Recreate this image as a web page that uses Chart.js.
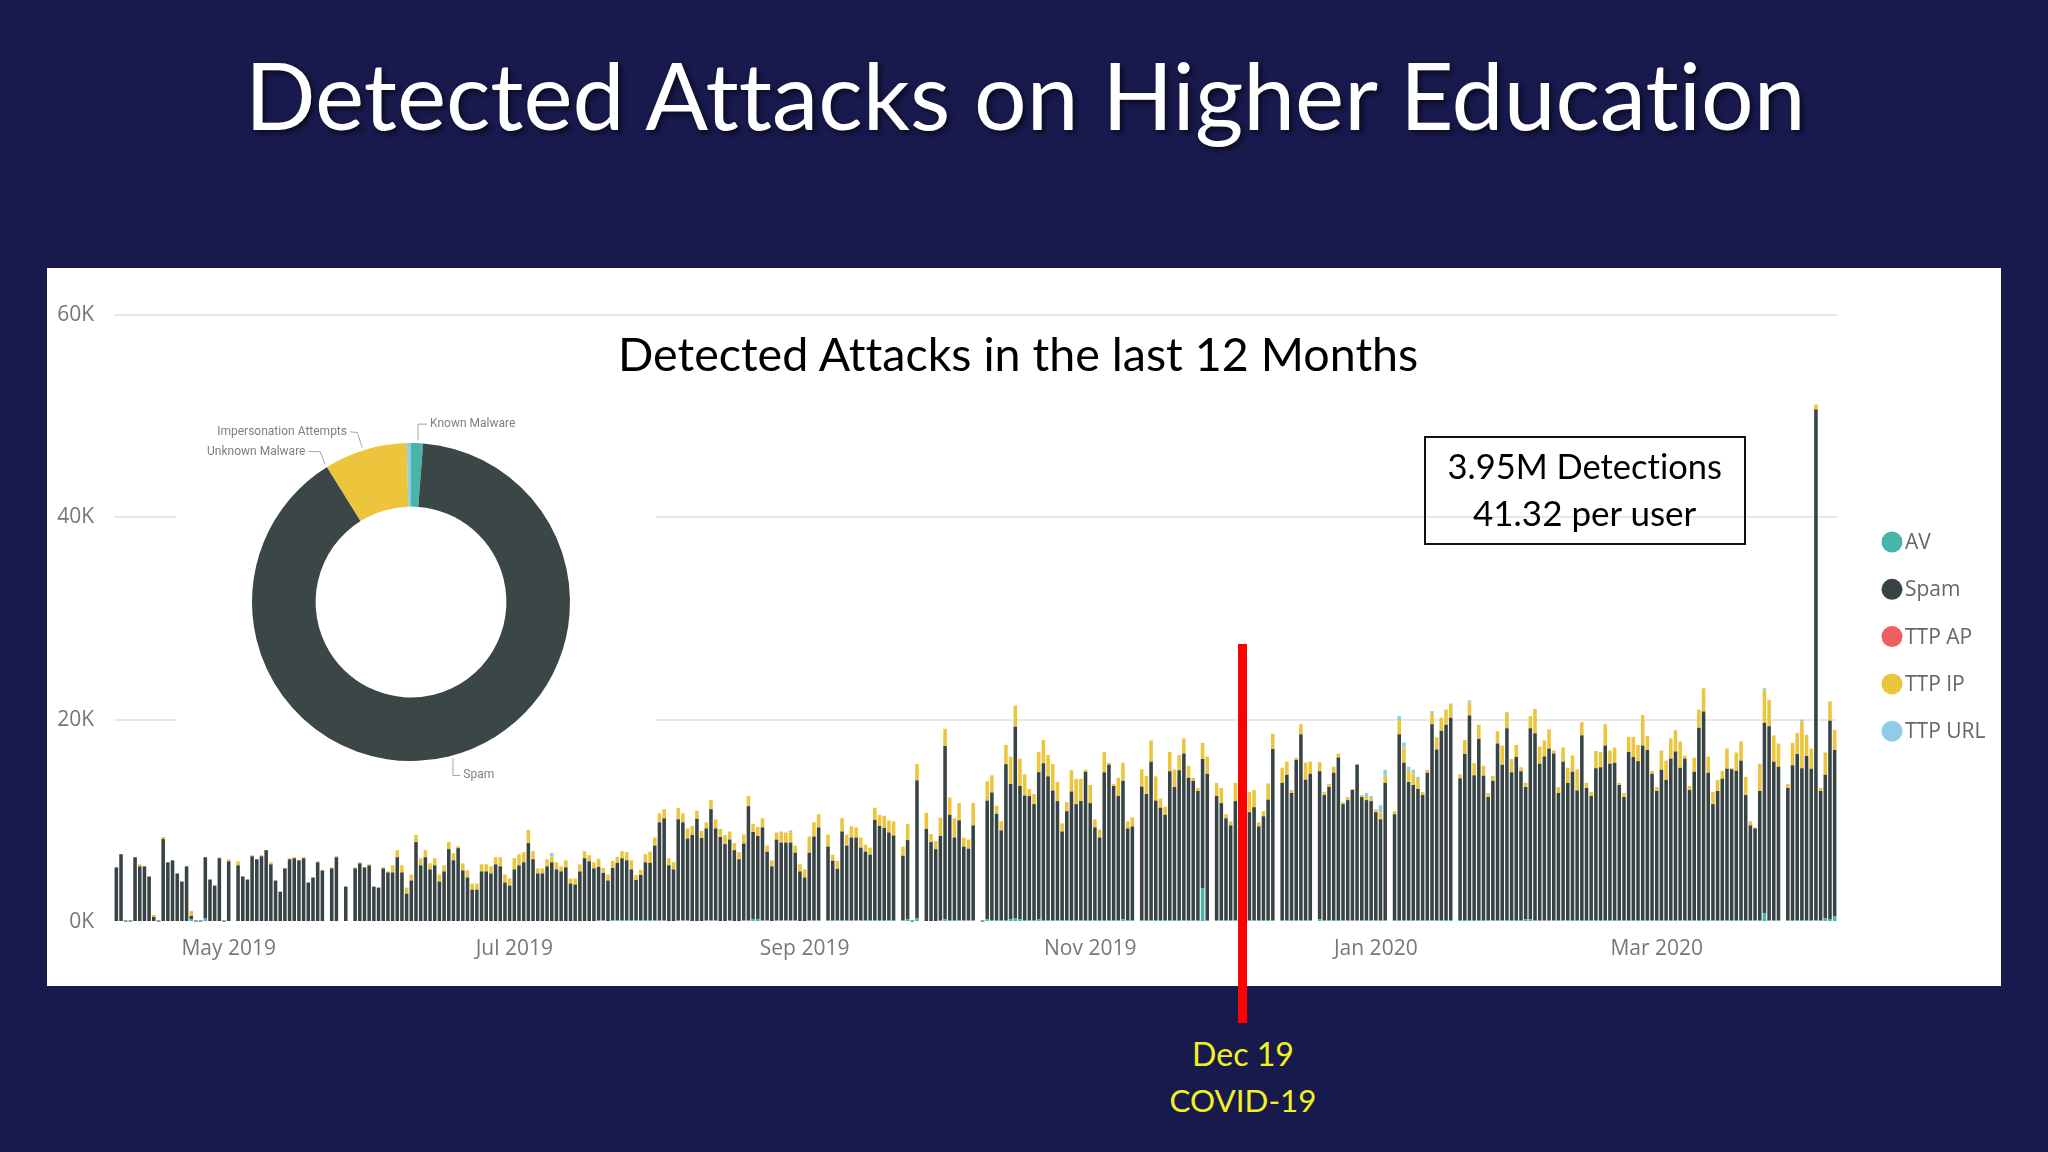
<!DOCTYPE html>
<html>
<head>
<meta charset="utf-8">
<script src="https://cdn.jsdelivr.net/npm/chart.js@4.4.1/dist/chart.umd.min.js"></script>
<style>
html,body{margin:0;padding:0;width:2048px;height:1152px;overflow:hidden;background:#18194c;}
#panel{position:absolute;left:47px;top:268px;width:1954px;height:718px;background:#ffffff;}
#barWrap{position:absolute;left:47px;top:268px;width:1954px;height:718px;}
#donutWrap{position:absolute;left:176px;top:400px;width:480px;height:395px;background:#ffffff;}
#box{position:absolute;left:1424px;top:436px;width:322px;height:109px;border:2px solid #111;box-sizing:border-box;}
#redline{position:absolute;top:644px;height:379px;width:9px;background:#ff0000;z-index:10;}
.txt{position:absolute;white-space:nowrap;z-index:5;}
</style>
</head>
<body>
<div id="panel"></div>
<div id="barWrap"><canvas id="bars" width="1954" height="718"></canvas></div>
<div id="donutWrap"><canvas id="donut" width="480" height="395"></canvas></div>
<div id="box"></div>
<div id="redline"></div>
<script>
// ---------------- DATA ----------------
// Daily detections, starting 2019-04-07 (one value per day)
const spam = [
5300,6600,100,100,6300,5400,5400,4400,400,100,
8100,5800,6000,4700,3900,5400,300,100,100,6000,
4100,3500,6200,100,5900,0,5500,4400,4100,6400,
6100,6400,7000,5600,4000,2900,5200,6100,6200,6000,
6200,3800,4300,5800,5000,0,5200,6300,0,3400,
0,5200,5700,5300,5500,3400,3300,5200,4800,4800,
6300,4800,2700,4000,7800,5500,6300,5100,5500,3900,
4900,7100,6000,7200,5000,4300,3100,3100,4900,4900,
4700,5600,5400,3800,3500,5100,5500,5800,7700,6100,
4700,4700,5400,5800,5100,4900,5300,3700,3600,4900,
6200,5900,5200,5300,4700,4000,5200,5700,6100,5900,
5000,4000,4500,5700,5700,7400,9700,10100,5500,5100,
10000,9700,8100,8500,10100,8200,9100,11000,9100,8300,
7600,8000,7000,6100,7600,11300,8600,8200,9200,6800,
5400,8000,7700,7700,7700,6700,4900,4300,6700,8300,
9200,0,7300,5900,5100,8800,7400,8200,8200,7200,
6800,6500,9900,9300,9100,8700,8400,100,6400,7800,
100,13600,0,9100,7800,7100,8300,17100,10400,8200,
9900,7300,7100,9400,0,100,11700,12600,10500,8900,
15400,13400,18900,13200,12300,12300,11500,14500,15500,14200,
12800,11800,8800,10800,12700,11500,11800,14700,11600,9200,
8200,14600,15400,13300,12300,13700,9100,9300,0,13200,
12500,15700,11800,11100,10400,14700,13200,14800,16500,14100,
13800,12800,12800,14500,100,12300,11600,10100,9400,11800,
11500,12500,10700,11200,9300,10300,11900,16900,0,13600,
14400,12600,15900,18400,13900,14500,0,14600,12400,13200,
14600,16100,11500,11900,12900,15400,12200,11900,11800,10700,
10000,13600,0,10500,18400,15600,13700,13400,13000,12400,
14600,19400,16900,18700,19300,20000,0,14000,16400,20200,
14300,17900,14300,12200,13800,17500,15400,19000,14600,16100,
14700,13100,18900,18500,15500,16200,17000,16500,12600,15700,
13600,14700,12800,18300,13100,12300,15000,15100,17300,15500,
15600,13400,12200,16600,16100,15700,17300,16800,14500,12800,
14900,13900,16000,16700,15100,16000,12900,14700,19000,20600,
14600,11500,12800,14000,15000,14900,14800,15800,12400,9400,
9100,12800,18800,19200,15700,15200,0,13100,15300,16400,
15000,16200,15000,50500,12800,14200,19600,16400
];
const ttpIp = [
0,0,0,0,0,200,0,0,200,0,
200,0,0,0,0,0,500,0,0,0,
0,0,100,0,200,0,400,0,0,100,
0,100,0,200,0,0,0,100,100,0,
100,0,0,100,0,0,100,100,0,0,
0,100,100,0,100,0,0,100,100,700,
700,700,600,600,700,700,700,600,700,700,
600,700,700,200,700,700,600,600,700,700,
700,700,900,800,700,1100,1100,1000,1300,800,
500,500,700,600,700,500,700,500,600,700,
700,600,600,800,500,600,700,600,700,800,
900,500,500,800,1100,800,900,900,700,700,
1100,900,1000,900,800,700,600,900,900,800,
900,800,700,700,900,1000,800,900,900,600,
600,700,1100,1000,1000,700,700,800,1600,1400,
1300,0,1200,600,800,1300,1100,1100,1000,1000,
700,700,1200,1100,1200,1200,1400,0,900,1600,
0,1600,0,1600,800,800,1800,1700,1700,1900,
1700,900,900,2200,0,0,1900,1700,800,900,
1900,2700,2100,2700,2100,700,1000,2000,2300,2100,
2600,1900,800,900,2100,2500,2200,200,1800,800,
800,2000,200,200,1800,1800,700,900,0,1700,
1800,2100,2400,900,800,1900,1700,1500,1500,1200,
300,300,1600,1700,0,1300,1500,400,400,1800,
1500,2000,2000,1700,400,500,1600,1500,0,1500,
1300,300,200,1000,1700,1200,0,900,300,300,
600,400,200,300,100,100,200,300,300,300,
700,700,0,300,1400,1500,1100,1200,900,300,
300,1100,1200,1300,1500,1400,0,400,1400,1300,
1200,1400,1000,400,500,1200,1900,1600,1300,1200,
400,400,1200,2400,1700,1600,1900,300,600,1400,
1500,1600,2100,1300,500,400,1700,1500,2100,1300,
1500,200,400,1500,2000,1600,3000,1400,300,400,
1900,1900,2000,2100,2600,300,400,1400,1800,2300,
1600,1200,1100,800,2000,100,1800,1900,1800,400,
100,2700,3200,2600,2600,2300,0,400,2200,2100,
4600,2100,2000,500,300,2200,1900,2000
];
const av = [
100,100,50,50,100,100,100,100,100,50,
100,100,100,100,100,100,300,50,50,400,
100,100,100,50,100,0,100,100,100,100,
100,100,100,100,100,100,100,100,100,100,
100,100,100,100,100,0,100,100,0,100,
0,100,100,100,100,100,100,100,100,100,
100,100,100,100,100,100,100,100,100,100,
100,100,100,100,100,100,100,100,100,100,
100,100,100,100,100,100,100,100,100,100,
100,100,100,100,100,100,100,100,100,100,
100,100,100,150,150,100,150,150,200,200,
200,150,150,200,150,150,150,150,100,100,
150,150,150,100,100,100,150,150,150,100,
100,150,100,100,150,150,300,300,150,150,
100,150,150,150,150,150,100,100,150,150,
150,0,150,150,150,150,150,150,150,150,
150,150,200,200,200,150,150,0,150,300,
50,400,0,100,100,100,200,300,200,150,
150,150,150,150,0,50,300,200,200,150,
200,250,400,250,200,150,150,300,200,200,
200,150,150,150,200,150,150,150,150,150,
150,200,150,150,150,250,150,150,0,200,
150,150,200,200,200,200,150,200,150,150,
150,150,3300,150,0,150,150,150,150,150,
150,150,150,150,150,150,200,200,0,150,
150,150,150,150,150,150,0,300,150,150,
150,150,150,150,150,150,150,150,150,150,
150,150,0,150,150,150,150,150,150,150,
150,150,150,200,200,200,0,200,200,200,
200,200,150,150,150,150,150,150,200,200,
200,250,250,150,150,150,150,150,150,150,
150,150,200,150,150,150,200,200,150,150,
150,150,150,200,200,200,150,200,150,150,
150,150,150,150,150,150,150,150,200,200,
150,150,150,150,150,200,150,150,150,150,
150,150,900,150,150,150,0,150,200,200,
200,200,150,150,150,350,300,600
];
const ttpUrl = [
0,0,0,0,0,0,0,0,0,0,
0,0,0,0,0,0,0,0,0,0,
0,0,0,0,0,0,0,0,0,0,
0,0,0,0,0,0,0,0,0,0,
0,0,0,0,0,0,0,0,0,0,
0,0,0,0,0,0,0,0,0,0,
0,0,0,0,0,0,0,0,0,0,
0,0,0,0,0,0,0,0,0,0,
0,0,0,0,0,0,0,0,0,0,
0,0,0,300,0,0,0,0,0,0,
0,0,0,0,0,0,0,0,0,0,
0,0,0,0,0,0,0,0,0,0,
0,0,0,0,0,0,0,0,0,0,
0,0,0,0,0,0,0,0,0,0,
0,0,0,0,200,0,0,0,0,0,
0,0,0,0,0,0,0,0,0,0,
0,0,0,0,0,0,0,0,0,0,
0,0,0,0,0,0,0,0,0,0,
0,0,0,0,0,0,0,0,0,0,
0,0,0,0,0,0,0,0,0,0,
0,0,0,0,0,0,0,0,0,0,
0,0,0,0,0,0,0,0,0,0,
0,0,0,0,0,0,0,0,0,0,
0,0,0,0,0,0,0,0,0,0,
0,0,0,0,0,0,0,0,0,0,
0,0,0,0,0,0,0,0,0,0,
0,0,0,0,0,0,0,400,200,0,
700,600,0,0,400,500,400,300,300,0,
0,200,0,0,0,0,0,0,0,200,
0,0,0,0,0,0,0,0,0,0,
0,0,0,0,0,0,0,0,0,0,
0,0,0,0,0,0,0,0,0,0,
0,0,0,0,0,0,0,0,0,0,
0,0,0,0,0,0,0,0,0,0,
0,0,0,0,0,0,0,0,0,0,
0,0,200,0,0,0,0,0,0,0,
200,0,0,0,0,0,0,0
];
const ttpAp = []; // no TTP AP detections visible

const seriesNames  = ['AV','Spam','TTP AP','TTP IP','TTP URL'];
const seriesColors = ['#47b6a9','#374345','#ee5f5e','#ecc53c','#8ecde5'];

const startDay = '2019-04-07';
const monthTickDates  = ['2019-05-01','2019-07-01','2019-09-01','2019-11-01','2020-01-01','2020-03-01'];
const monthTickLabels = ['May 2019','Jul 2019','Sep 2019','Nov 2019','Jan 2020','Mar 2020'];
const yTicks = [0, 20000, 40000, 60000];
const markerDate = '2019-12-03';

const donutLabels = ['Known Malware','Spam','Unknown Malware','Impersonation Attempts'];
const donutValues = [48000, 3552000, 333000, 17000];
const donutColors = ['#47b6a9','#3b4646','#ecc53c','#8ecde5'];

// ---------------- CATEGORIES ----------------
const t0 = Date.parse(startDay + 'T00:00:00Z');
const dates = spam.map((_, i) => new Date(t0 + i * 86400000).toISOString().slice(0, 10));

// ---------------- TEXT ----------------
const meas = document.createElement('canvas').getContext('2d');
function addText(t) {
  const fam = t.family || 'Lato';
  meas.font = `400 100px ${fam}`;
  const size = 100 * t.w / meas.measureText(t.text).width;
  meas.font = `400 ${size}px ${fam}`;
  const mm = meas.measureText(t.text);
  const A = mm.fontBoundingBoxAscent, D = mm.fontBoundingBoxDescent;
  const el = document.createElement('div');
  el.className = 'txt';
  el.textContent = t.text;
  el.style.font = `400 ${size}px ${fam}`;
  el.style.lineHeight = size + 'px';
  el.style.fontVariantLigatures = 'none';
  el.style.fontFeatureSettings = '"liga" 0, "clig" 0, "dlig" 0, "calt" 0';
  el.style.letterSpacing = '0.01px';
  el.style.left = (t.cx - t.w / 2) + 'px';
  el.style.top = (t.base - ((size - (A + D)) / 2 + A)) + 'px';
  el.style.color = t.color;
  if (t.shadow) el.style.textShadow = '3px 3px 5px rgba(0,0,0,0.55)';
  document.body.appendChild(el);
}
[
  {text:'Detected Attacks on Higher Education', cx:1027, base:130, w:1564, color:'#ffffff', shadow:true},
  {text:'Detected Attacks in the last 12 Months', cx:1018, base:371, w:800, color:'#000000'},
  {text:'3.95M Detections', cx:1585, base:480, w:275, color:'#000000'},
  {text:'41.32 per user', cx:1585, base:526, w:224, color:'#000000'},
  {text:'Dec 19', cx:1243, base:1067, w:102, color:'#f2f21e'},
  {text:'COVID-19', cx:1243, base:1113, w:147, color:'#f2f21e'}
].forEach(addText);

// ---------------- BAR CHART ----------------
const sideLegend = {
  id: 'sideLegend',
  afterDraw(chart) {
    const ctx = chart.ctx;
    ctx.save();
    ctx.font = '21px "Open Sans"';
    ctx.textBaseline = 'middle';
    ctx.textAlign = 'left';
    chart.data.datasets.forEach((ds, i) => {
      const x = 1845, y = 274 + i * 47.3;
      ctx.fillStyle = ds.backgroundColor;
      ctx.beginPath(); ctx.arc(x, y, 10.5, 0, Math.PI * 2); ctx.fill();
      ctx.fillStyle = '#666666';
      ctx.fillText(ds.label, x + 13, y + 1);
    });
    ctx.restore();
  }
};
const markerPlugin = {
  id: 'marker',
  afterDraw(chart) {
    const idx = dates.indexOf(markerDate) + 0.5;
    const px = chart.scales.x.getPixelForValue(idx) + 47;
    document.getElementById('redline').style.left = (px - 4.5) + 'px';
  }
};

const datasets = [av, spam, ttpAp, ttpIp, ttpUrl].map((d, i) => ({
  label: seriesNames[i],
  data: d,
  backgroundColor: seriesColors[i],
  borderWidth: 0,
  barPercentage: 0.76,
  categoryPercentage: 1.0,
  stack: 's'
}));

new Chart(document.getElementById('bars'), {
  type: 'bar',
  data: { labels: dates, datasets },
  plugins: [sideLegend, markerPlugin],
  options: {
    responsive: false,
    animation: false,
    layout: { padding: { left: 0, top: 47, right: 164, bottom: 0 } },
    plugins: { legend: { display: false }, tooltip: { enabled: false } },
    scales: {
      x: {
        stacked: true,
        grid: { display: false, drawTicks: false },
        border: { display: false },
        ticks: {
          autoSkip: false, maxRotation: 0, minRotation: 0, padding: 14,
          color: '#777777', font: { family: 'Open Sans', size: 21 },
          callback: (v, i) => {
            const k = monthTickDates.indexOf(dates[i]);
            return k >= 0 ? monthTickLabels[k] : '';
          }
        },
        afterFit: s => { s.height = 64; }
      },
      y: {
        stacked: true, min: 0, max: 60000,
        afterBuildTicks: s => { s.ticks = yTicks.map(v => ({ value: v })); },
        ticks: {
          padding: 20, color: '#777777', font: { family: 'Open Sans', size: 21 },
          callback: v => (v / 1000) + 'K'
        },
        grid: {
          drawTicks: false, lineWidth: 2,
          color: c => (c.tick && c.tick.value === 0) ? 'rgba(0,0,0,0)' : '#e8e8e8'
        },
        border: { display: false },
        afterFit: s => { s.width = 67; }
      }
    }
  }
});

// ---------------- DONUT ----------------
const donutCallouts = [
  { i: 0, ang: 2.5,   pts: [[0, -16], [9, -16]],          align: 'left'  },
  { i: 3, ang: -17.5, pts: [[-5, -15], [-12.3, -15.7]],   align: 'right' },
  { i: 2, ang: -32,   pts: [[-5, -13], [-16.7, -13]],     align: 'right' },
  { i: 1, ang: 165,   pts: [[0, 17], [7.4, 17]],          align: 'left'  }
];
const donutLabelPlugin = {
  id: 'donutLabels',
  afterDraw(chart) {
    const ctx = chart.ctx;
    const arc = chart.getDatasetMeta(0).data[0];
    const cx = arc.x, cy = arc.y, r = arc.outerRadius + 3;
    ctx.save();
    ctx.strokeStyle = '#a6a6a6';
    ctx.lineWidth = 1;
    ctx.font = '12px Roboto';
    ctx.fillStyle = '#808080';
    ctx.textBaseline = 'middle';
    donutCallouts.forEach(c => {
      const a = c.ang * Math.PI / 180;
      const ax = cx + r * Math.sin(a), ay = cy - r * Math.cos(a);
      ctx.beginPath();
      ctx.moveTo(ax, ay);
      c.pts.forEach(p => ctx.lineTo(ax + p[0], ay + p[1]));
      ctx.stroke();
      const end = c.pts[c.pts.length - 1];
      ctx.textAlign = c.align;
      const tx = ax + end[0] + (c.align === 'left' ? 3 : -3);
      ctx.fillText(chart.data.labels[c.i], tx, ay + end[1]);
    });
    ctx.restore();
  }
};
new Chart(document.getElementById('donut'), {
  type: 'doughnut',
  data: { labels: donutLabels, datasets: [{ data: donutValues, backgroundColor: donutColors, borderWidth: 0 }] },
  plugins: [donutLabelPlugin],
  options: {
    responsive: false,
    animation: false,
    cutout: '60%',
    rotation: 0,
    layout: { padding: { left: 76, right: 86, top: 43, bottom: 34 } },
    plugins: { legend: { display: false }, tooltip: { enabled: false } }
  }
});
</script>
</body>
</html>
